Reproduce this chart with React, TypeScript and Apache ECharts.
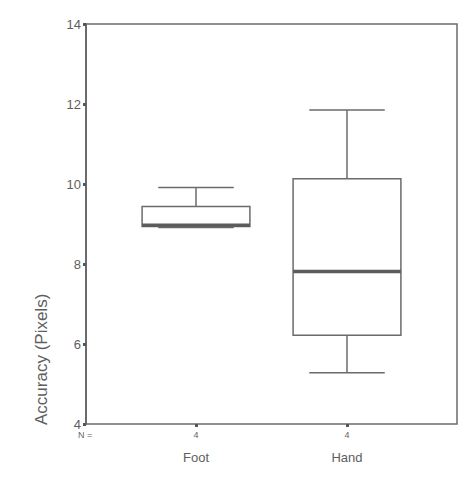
import { useEffect, useRef } from 'react';
import * as echarts from 'echarts';

const categories = ['Foot', 'Hand'];
const nCounts = [4, 4];
const mins = [8.91, 5.28];
const q1s = [8.94, 6.22];
const medians = [8.97, 7.81];
const q3s = [9.44, 10.13];
const maxs = [9.91, 11.85];
const yMin = 4;
const yMax = 14;
const yStep = 2;

const LINE = '#6b6b6b';
const TEXT = '#5e5e5e';
const FONT = '"Liberation Sans", Arial, sans-serif';

const App = () => {
    const chartRef = useRef<HTMLDivElement>(null);

    useEffect(() => {
        const chart = echarts.init(chartRef.current!, null, { renderer: 'svg' });

        const data = categories.map((_, i) => [i, mins[i], q1s[i], medians[i], q3s[i], maxs[i]]);

        const renderItem = (params: any, api: any) => {
            const x = api.value(0);
            const band = api.size([1, 0])[0];
            const half = band * 0.357;
            const capHalf = band * 0.25;
            const pMin = api.coord([x, api.value(1)]);
            const pQ1 = api.coord([x, api.value(2)]);
            const pMed = api.coord([x, api.value(3)]);
            const pQ3 = api.coord([x, api.value(4)]);
            const pMax = api.coord([x, api.value(5)]);
            const cx = pMed[0];
            const thin = { stroke: LINE, lineWidth: 1.5, fill: 'none' };
            return {
                type: 'group',
                children: [
                    { type: 'line', shape: { x1: cx, y1: pMax[1], x2: cx, y2: pQ3[1] }, style: thin },
                    { type: 'line', shape: { x1: cx, y1: pQ1[1], x2: cx, y2: pMin[1] }, style: thin },
                    { type: 'line', shape: { x1: cx - capHalf, y1: pMax[1], x2: cx + capHalf, y2: pMax[1] }, style: thin },
                    { type: 'line', shape: { x1: cx - capHalf, y1: pMin[1], x2: cx + capHalf, y2: pMin[1] }, style: thin },
                    {
                        type: 'rect',
                        shape: { x: cx - half, y: pQ3[1], width: half * 2, height: pQ1[1] - pQ3[1] },
                        style: { stroke: LINE, lineWidth: 1.5, fill: '#fff' },
                    },
                    {
                        type: 'line',
                        shape: { x1: cx - half, y1: pMed[1], x2: cx + half, y2: pMed[1] },
                        style: { stroke: '#5c5c5c', lineWidth: 3.5 },
                    },
                ],
            };
        };

        chart.setOption({
            animation: false,
            grid: [
                { left: 86, top: 24, width: 371, height: 400, show: true, borderColor: LINE, borderWidth: 1.5, backgroundColor: 'transparent' },
                { left: 120.5, top: 24, width: 302, height: 400 },
            ],
            xAxis: [
                { gridIndex: 0, type: 'value', show: false },
                {
                    gridIndex: 1,
                    type: 'category',
                    data: categories,
                    axisLine: { show: false },
                    axisTick: { show: true, alignWithLabel: true, length: 3, lineStyle: { color: '#555', width: 3 } },
                    axisLabel: {
                        margin: 4,
                        formatter: (v: string, i: number) => `{n|${nCounts[i]}}\n{c|${v}}`,
                        rich: {
                            n: { fontSize: 9, lineHeight: 14, color: '#666', fontFamily: FONT },
                            c: { fontSize: 13, lineHeight: 30, color: TEXT, fontFamily: FONT },
                        },
                    },
                },
            ],
            yAxis: [
                {
                    gridIndex: 0,
                    type: 'value',
                    min: yMin,
                    max: yMax,
                    interval: yStep,
                    axisLine: { show: true, lineStyle: { color: LINE, width: 2 } },
                    axisTick: { show: true, length: 3, lineStyle: { color: '#555', width: 3 } },
                    axisLabel: { fontSize: 13, color: TEXT, fontFamily: FONT, margin: 5, padding: [0, 0, 5, 0] },
                    splitLine: { show: false },
                },
                { gridIndex: 1, type: 'value', min: yMin, max: yMax, show: false },
            ],
            graphic: [
                {
                    type: 'text',
                    x: 41,
                    y: 425,
                    rotation: Math.PI / 2,
                    style: {
                        text: 'Accuracy (Pixels)',
                        fontSize: 17,
                        fontFamily: FONT,
                        fill: TEXT,
                        textAlign: 'left',
                        textVerticalAlign: 'middle',
                    },
                },
                {
                    type: 'text',
                    x: 78,
                    y: 435,
                    style: {
                        text: 'N =',
                        fontSize: 9,
                        fontFamily: FONT,
                        fill: '#666',
                        textAlign: 'left',
                        textVerticalAlign: 'middle',
                    },
                },
            ],
            series: [
                {
                    type: 'custom',
                    xAxisIndex: 1,
                    yAxisIndex: 1,
                    data,
                    encode: { x: 0, y: [1, 2, 3, 4, 5] },
                    renderItem,
                },
            ],
        });

        return () => {
            chart.dispose();
        };
    }, []);

    return (
        <div
            ref={chartRef}
            style={{ position: 'absolute', left: 0, top: 0, width: '474px', height: '480px', background: '#fff' }}
        />
    );
};

export default App;
